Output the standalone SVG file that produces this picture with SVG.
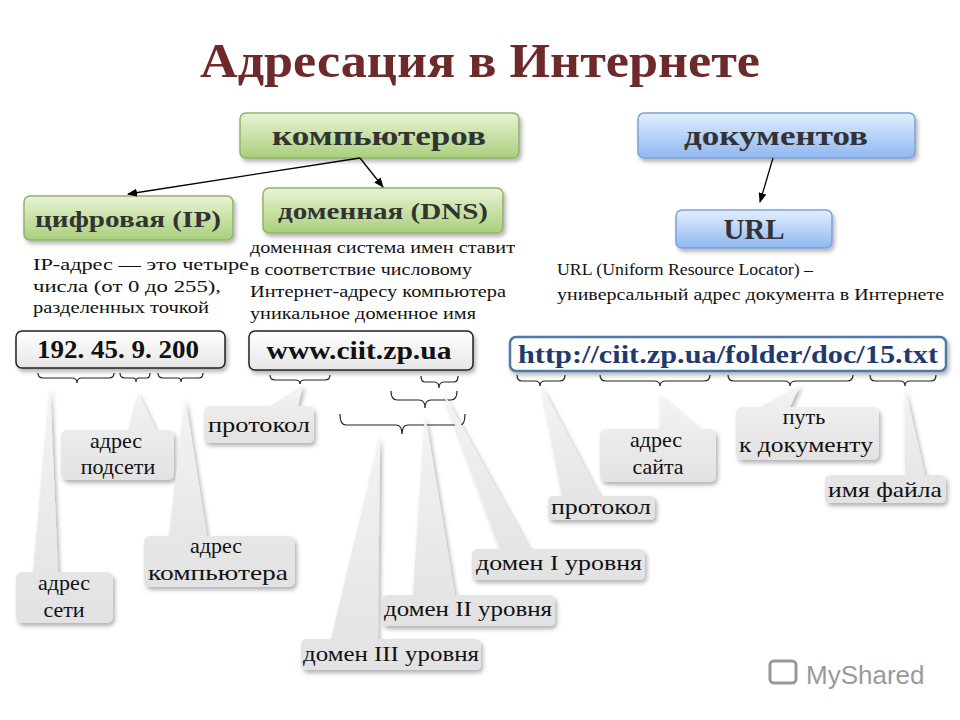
<svg xmlns="http://www.w3.org/2000/svg" width="960" height="720" viewBox="0 0 960 720">
<defs>
<linearGradient id="gg" x1="0" y1="0" x2="0" y2="1"><stop offset="0" stop-color="#e8f3d8"/><stop offset="0.5" stop-color="#c9e2a6"/><stop offset="1" stop-color="#a9cf7c"/></linearGradient>
<linearGradient id="bg" x1="0" y1="0" x2="0" y2="1"><stop offset="0" stop-color="#e4efff"/><stop offset="0.5" stop-color="#b8d3f8"/><stop offset="1" stop-color="#8fb7ef"/></linearGradient>
<linearGradient id="wg" x1="0" y1="0" x2="0" y2="1"><stop offset="0" stop-color="#ffffff"/><stop offset="1" stop-color="#e6e6e6"/></linearGradient>
<linearGradient id="cg" x1="0" y1="0" x2="0" y2="1"><stop offset="0" stop-color="#f4f4f4"/><stop offset="1" stop-color="#e2e2e2"/></linearGradient>
<filter id="sh" x="-20%" y="-20%" width="140%" height="150%"><feDropShadow dx="2" dy="3" stdDeviation="2" flood-color="#000" flood-opacity="0.3"/></filter>
<marker id="ar" markerWidth="10" markerHeight="8" refX="9" refY="4" orient="auto" markerUnits="userSpaceOnUse"><path d="M0,0 L10,4 L0,8 z" fill="#000"/></marker>
</defs>
<style>
text{font-family:"Liberation Serif","DejaVu Serif",serif;fill:#111}
.t{font-size:48px;font-weight:bold;fill:#6e2a2a}
.h{font-size:27px;font-weight:bold;fill:#333;text-anchor:middle}
.d{font-size:16px}
.v{font-size:25px;font-weight:bold;text-anchor:middle}
.c{font-size:22px;text-anchor:middle}
.gb{fill:url(#gg);stroke:#8fb46a;stroke-width:1.5;filter:url(#sh)}
.bb{fill:url(#bg);stroke:#7aa2d8;stroke-width:1.5;filter:url(#sh)}
.wb{fill:url(#wg);stroke:#222;stroke-width:1.5;filter:url(#sh)}
.co{fill:url(#cg);filter:url(#sh)}
.br{fill:none;stroke:#222;stroke-width:1.2}
.cn{stroke:#000;stroke-width:1.3;fill:none;marker-end:url(#ar)}
</style>
<rect width="960" height="720" fill="#fff"/>
<text class="t" x="480" y="77" text-anchor="middle" textLength="560" lengthAdjust="spacingAndGlyphs">Адресация в Интернете</text>

<g id="n-comp"><rect class="gb" x="240" y="113" width="279" height="45" rx="6"/><text class="h" x="379" y="145" textLength="214" lengthAdjust="spacingAndGlyphs">компьютеров</text></g>
<g id="n-docs"><rect class="bb" x="638" y="113" width="277" height="45" rx="6"/><text class="h" x="776" y="145" textLength="184" lengthAdjust="spacingAndGlyphs">документов</text></g>
<g id="n-ip"><rect class="gb" x="24" y="196" width="209" height="44" rx="6"/><text class="h" x="128" y="227" style="font-size:24px" textLength="186" lengthAdjust="spacingAndGlyphs">цифровая (IP)</text></g>
<g id="n-dns"><rect class="gb" x="263" y="188" width="240" height="45" rx="6"/><text class="h" x="383" y="219" style="font-size:24px" textLength="210" lengthAdjust="spacingAndGlyphs">доменная (DNS)</text></g>
<g id="n-url"><rect class="bb" x="676" y="210" width="156" height="38" rx="6"/><text class="h" x="754" y="239" style="font-size:29px">URL</text></g>

<g id="connectors">
<line class="cn" x1="360" y1="158" x2="128" y2="194"/>
<line class="cn" x1="360" y1="158" x2="383" y2="187"/>
<line class="cn" x1="773" y1="158" x2="760" y2="202"/>
</g>

<g id="desc">
<text class="d" x="33" y="270" textLength="216" lengthAdjust="spacingAndGlyphs">IP-адрес — это четыре</text>
<text class="d" x="33" y="292" textLength="188" lengthAdjust="spacingAndGlyphs">числа (от 0 до 255),</text>
<text class="d" x="33" y="313" textLength="176" lengthAdjust="spacingAndGlyphs">разделенных точкой</text>
<text class="d" x="250" y="253" textLength="265" lengthAdjust="spacingAndGlyphs">доменная система имен ставит</text>
<text class="d" x="250" y="275" textLength="222" lengthAdjust="spacingAndGlyphs">в соответствие числовому</text>
<text class="d" x="250" y="297" textLength="256" lengthAdjust="spacingAndGlyphs">Интернет-адресу компьютера</text>
<text class="d" x="250" y="319" textLength="226" lengthAdjust="spacingAndGlyphs">уникальное доменное имя</text>
<text class="d" x="557" y="275" textLength="256" lengthAdjust="spacingAndGlyphs">URL (Uniform Resource Locator) –</text>
<text class="d" x="557" y="300" textLength="387" lengthAdjust="spacingAndGlyphs">универсальный адрес документа в Интернете</text>
</g>

<g id="n-ipval"><rect class="wb" x="16" y="331" width="209" height="37" rx="6"/><text class="v" x="118" y="358" textLength="162" lengthAdjust="spacingAndGlyphs">192. 45. 9. 200</text></g>
<g id="n-dnsval"><rect class="wb" x="249" y="331" width="224" height="39" rx="6"/><text class="v" x="359" y="359" textLength="185" lengthAdjust="spacingAndGlyphs">www.ciit.zp.ua</text></g>
<g id="n-urlval"><rect x="510" y="337" width="436" height="34" rx="6" fill="#fff" stroke="#4f79a8" stroke-width="2.5" filter="url(#sh)"/><text class="v" x="728" y="363" style="fill:#1f3a6e;font-size:26px" textLength="420" lengthAdjust="spacingAndGlyphs">http://ciit.zp.ua/folder/doc/15.txt</text></g>

<g id="braces">
<path class="br" d="M38,373 q0,5 5,5 h29 q5,0 5,5 q0,-5 5,-5 h27 q5,0 5,-5"/>
<path class="br" d="M120,373 q0,5 5,5 h8 q3,0 3,4 q0,-4 3,-4 h8 q3,0 3,-5"/>
<path class="br" d="M158,373 q0,5 5,5 h15 q3,0 3,4 q0,-4 3,-4 h15 q4,0 4,-5"/>
<path class="br" d="M270,375 q0,5 5,5 h20 q5,0 5,4 q0,-4 5,-4 h20 q5,0 5,-5"/>
<path class="br" d="M421,376 q0,6 4,6 h9 q5,0 5,6 q0,-6 5,-6 h10 q4,0 4,-6"/>
<path class="br" d="M391,391 q0,9 6,9 h22 q6,0 6,8 q0,-8 6,-8 h20 q6,0 6,-9"/>
<path class="br" d="M340,414 q0,11 6,11 h50 q6,0 6,9 q0,-9 6,-9 h52 q5,0 5,-11"/>
<path class="br" d="M517,375 q0,6 5,6 h13 q5,0 5,5 q0,-5 5,-5 h15 q5,0 5,-6"/>
<path class="br" d="M600,375 q0,6 6,6 h48 q6,0 6,5 q0,-5 6,-5 h38 q6,0 6,-6"/>
<path class="br" d="M728,375 q0,6 6,6 h50 q6,0 6,5 q0,-5 6,-5 h51 q6,0 6,-6"/>
<path class="br" d="M870,375 q0,6 5,6 h25 q5,0 5,5 q0,-5 5,-5 h21 q5,0 5,-6"/>
</g>

<g id="c-net"><path class="co" d="M50,385 L58,572 H106 q7,0 7,7 V616 q0,7 -7,7 H23 q-7,0 -7,-7 V579 q0,-7 7,-7 H33 Z"/><text class="c" x="64" y="590">адрес</text><text class="c" x="64" y="617">сети</text></g>
<g id="c-sub"><path class="co" d="M138,392 L156,430 H167 q7,0 7,7 V473 q0,7 -7,7 H68 q-7,0 -7,-7 V437 q0,-7 7,-7 H128 Z"/><text class="c" x="116" y="448">адрес</text><text class="c" x="118" y="474">подсети</text></g>
<g id="c-comp"><path class="co" d="M185,397 L207,536 H288 q7,0 7,7 V580 q0,7 -7,7 H151 q-7,0 -7,-7 V543 q0,-7 7,-7 H169 Z"/><text class="c" x="216" y="553">адрес</text><text class="c" x="218" y="580" textLength="140" lengthAdjust="spacingAndGlyphs">компьютера</text></g>
<g id="c-proto1"><path class="co" d="M303,385 L298,406 H308 q6,0 6,6 V437 q0,6 -6,6 H210 q-6,0 -6,-6 V412 q0,-6 6,-6 H270 Z"/><text class="c" x="259" y="432" textLength="102" lengthAdjust="spacingAndGlyphs">протокол</text></g>
<g id="c-d3"><path class="co" d="M380,435 L378,639 H475 q6,0 6,6 V664 q0,6 -6,6 H307 q-6,0 -6,-6 V645 q0,-6 6,-6 H331 Z"/><text class="c" x="391" y="661" textLength="176" lengthAdjust="spacingAndGlyphs">домен III уровня</text></g>
<g id="c-d2"><path class="co" d="M425,414 L455,595 H549 q6,0 6,6 V620 q0,6 -6,6 H388 q-6,0 -6,-6 V601 q0,-6 6,-6 H413 Z"/><text class="c" x="468" y="616" textLength="168" lengthAdjust="spacingAndGlyphs">домен II уровня</text></g>
<g id="c-d1"><path class="co" d="M442,390 L530,549 H639 q6,0 6,6 V574 q0,6 -6,6 H478 q-6,0 -6,-6 V555 q0,-6 6,-6 H500 Z"/><text class="c" x="559" y="570" textLength="166" lengthAdjust="spacingAndGlyphs">домен I уровня</text></g>
<g id="c-proto2"><path class="co" d="M541,385 L600,496 H650 q5,0 5,5 V515 q0,5 -5,5 H553 q-5,0 -5,-5 V501 q0,-5 5,-5 H562 Z"/><text class="c" x="601" y="514" style="font-size:20px" textLength="100" lengthAdjust="spacingAndGlyphs">протокол</text></g>
<g id="c-site"><path class="co" d="M660,395 L700,429 H709 q7,0 7,7 V475 q0,7 -7,7 H607 q-7,0 -7,-7 V436 q0,-7 7,-7 H660 Z"/><text class="c" x="656" y="447">адрес</text><text class="c" x="658" y="474">сайта</text></g>
<g id="c-path"><path class="co" d="M800,385 L790,407 H872 q7,0 7,7 V453 q0,7 -7,7 H743 q-7,0 -7,-7 V414 q0,-7 7,-7 H760 Z"/><text class="c" x="804" y="424">путь</text><text class="c" x="806" y="452" textLength="134" lengthAdjust="spacingAndGlyphs">к документу</text></g>
<g id="c-file"><path class="co" d="M905,388 L925,475 H940 q6,0 6,6 V497 q0,6 -6,6 H831 q-6,0 -6,-6 V481 q0,-6 6,-6 H905 Z"/><text class="c" x="885" y="497" style="font-size:21px" textLength="114" lengthAdjust="spacingAndGlyphs">имя файла</text></g>

<g id="logo"><rect x="770" y="661" width="26" height="22" rx="4" fill="none" stroke="#999" stroke-width="3"/><text x="806" y="684" style="font-family:'Liberation Sans',sans-serif;font-size:26px;fill:#9a9a9a">MyShared</text></g>
</svg>
